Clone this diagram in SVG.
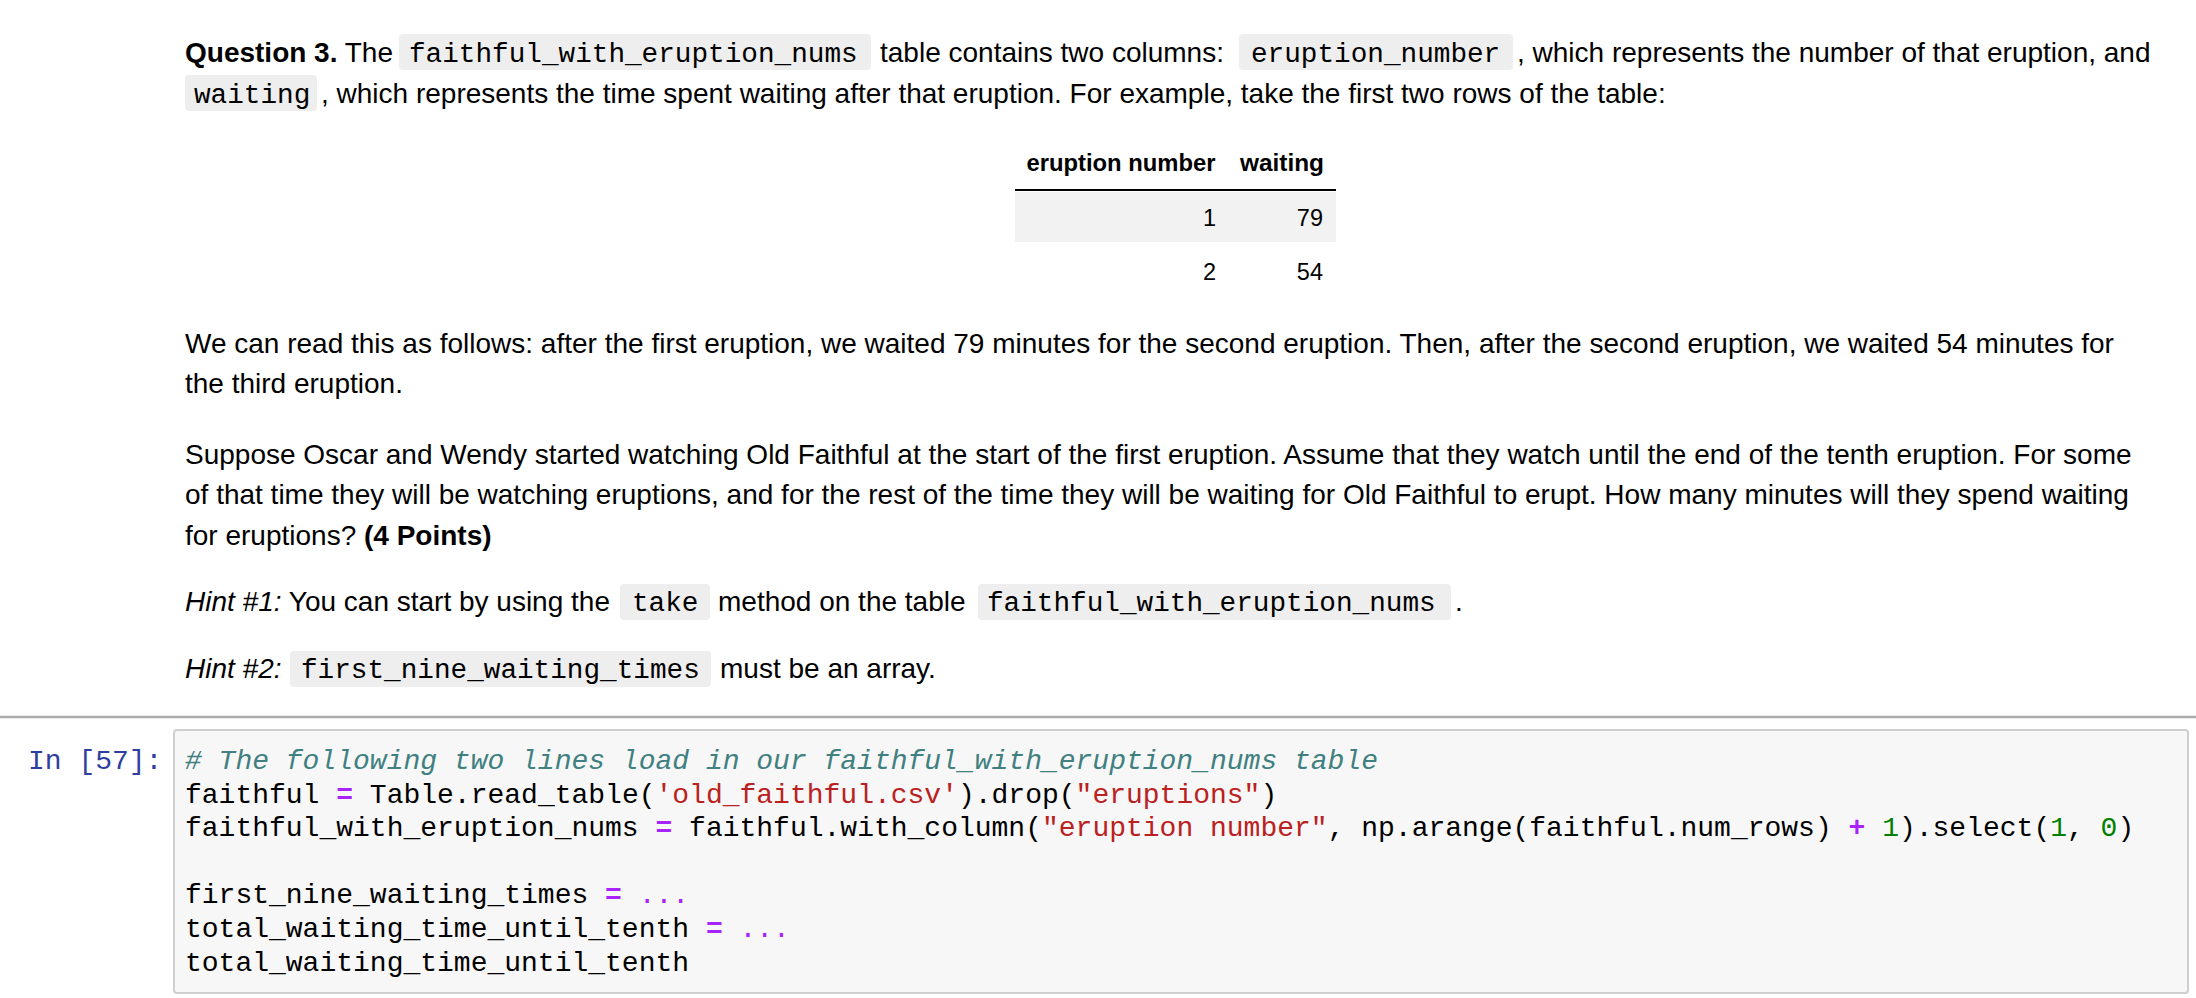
<svg xmlns="http://www.w3.org/2000/svg" width="2196" height="998" viewBox="0 0 2196 998">
<style>
.t{font-family:"Liberation Sans",Arial,sans-serif;font-size:28px;fill:#000}
.b{font-weight:bold}
.i{font-style:italic}
.c{font-family:"Liberation Mono","DejaVu Sans Mono",monospace;font-size:27.7px;fill:#000}
.cb{fill:#eeeeee}
.k{font-family:"Liberation Mono","DejaVu Sans Mono",monospace;font-size:28px;fill:#000}
.cm{fill:#408080;font-style:italic}
.s{fill:#BA2121}
.o{fill:#AA22FF;font-weight:bold}
.n{fill:#008000}
.tb{font-family:"Liberation Sans",Arial,sans-serif;font-size:23.5px;fill:#000}
</style>
<rect width="2196" height="998" fill="#fff"/>
<g id="question">
<rect class="cb" x="399" y="34" width="472" height="36" rx="4"/>
<rect class="cb" x="1239" y="34" width="274" height="36" rx="4"/>
<rect class="cb" x="185" y="75" width="132" height="36" rx="4"/>
<text class="t" x="185" y="62"><tspan class="b">Question 3.</tspan> The</text>
<text class="c" x="409" y="62">faithful_with_eruption_nums</text>
<text class="t" x="880" y="62">table contains two columns:</text>
<text class="c" x="1251" y="62">eruption_number</text>
<text class="t" x="1517" y="62">, which represents the number of that eruption, and</text>
<text class="c" x="194" y="103">waiting</text>
<text class="t" x="321" y="103">, which represents the time spent waiting after that eruption. For example, take the first two rows of the table:</text>
</g>
<g id="table">
<rect x="1015" y="192" width="321" height="50" fill="#f2f2f2"/>
<line x1="1015" y1="190" x2="1336" y2="190" stroke="#000" stroke-width="2"/>
<text class="tb b" x="1121" y="171" text-anchor="middle" textLength="189" lengthAdjust="spacingAndGlyphs">eruption number</text>
<text class="tb b" x="1282" y="171" text-anchor="middle" textLength="84" lengthAdjust="spacingAndGlyphs">waiting</text>
<text class="tb" x="1216" y="226" text-anchor="end">1</text>
<text class="tb" x="1323" y="226" text-anchor="end">79</text>
<text class="tb" x="1216" y="280" text-anchor="end">2</text>
<text class="tb" x="1323" y="280" text-anchor="end">54</text>
</g>
<g id="paragraphs">
<text class="t" x="185" y="353">We can read this as follows: after the first eruption, we waited 79 minutes for the second eruption. Then, after the second eruption, we waited 54 minutes for</text>
<text class="t" x="185" y="393">the third eruption.</text>
<text class="t" x="185" y="464">Suppose Oscar and Wendy started watching Old Faithful at the start of the first eruption. Assume that they watch until the end of the tenth eruption. For some</text>
<text class="t" x="185" y="504">of that time they will be watching eruptions, and for the rest of the time they will be waiting for Old Faithful to erupt. How many minutes will they spend waiting</text>
<text class="t" x="185" y="545">for eruptions? <tspan class="b">(4 Points)</tspan></text>
</g>
<g id="hints">
<rect class="cb" x="620" y="584" width="90" height="36" rx="4"/>
<rect class="cb" x="978" y="584" width="473" height="36" rx="4"/>
<text class="t" x="185" y="611"><tspan class="i">Hint #1:</tspan> You can start by using the</text>
<text class="c" x="632" y="611">take</text>
<text class="t" x="718" y="611">method on the table</text>
<text class="c" x="987" y="611">faithful_with_eruption_nums</text>
<text class="t" x="1455" y="611">.</text>
<rect class="cb" x="290" y="651" width="421" height="36" rx="4"/>
<text class="t" x="185" y="678"><tspan class="i">Hint #2:</tspan></text>
<text class="c" x="301" y="678">first_nine_waiting_times</text>
<text class="t" x="720" y="678">must be an array.</text>
</g>
<line x1="0" y1="717" x2="2196" y2="717" stroke="#ababab" stroke-width="2.5"/>
<g id="cell">
<rect x="174" y="730" width="2014" height="263" rx="3" fill="#f7f7f7" stroke="#cfcfcf" stroke-width="2"/>
<text class="k" x="28" y="769" style="fill:#303F9F">In [57]:</text>
<text class="k" x="185" y="769"><tspan class="cm"># The following two lines load in our faithful_with_eruption_nums table</tspan></text>
<text class="k" x="185" y="803" xml:space="preserve">faithful <tspan class="o">=</tspan> Table.read_table(<tspan class="s">'old_faithful.csv'</tspan>).drop(<tspan class="s">"eruptions"</tspan>)</text>
<text class="k" x="185" y="836" xml:space="preserve">faithful_with_eruption_nums <tspan class="o">=</tspan> faithful.with_column(<tspan class="s">"eruption number"</tspan>, np.arange(faithful.num_rows) <tspan class="o">+</tspan> <tspan class="n">1</tspan>).select(<tspan class="n">1</tspan>, <tspan class="n">0</tspan>)</text>
<text class="k" x="185" y="903" xml:space="preserve">first_nine_waiting_times <tspan class="o">=</tspan> <tspan class="o" style="font-weight:normal">...</tspan></text>
<text class="k" x="185" y="937" xml:space="preserve">total_waiting_time_until_tenth <tspan class="o">=</tspan> <tspan class="o" style="font-weight:normal">...</tspan></text>
<text class="k" x="185" y="971">total_waiting_time_until_tenth</text>
</g>
</svg>
